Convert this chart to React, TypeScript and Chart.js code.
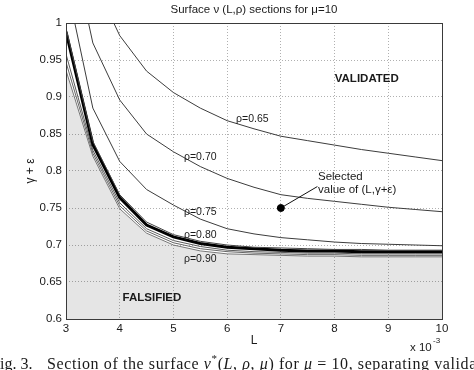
import React, { useEffect, useRef } from "react";
import { Chart, registerables } from "chart.js";
Chart.register(...registerables);

// ---- data ----
const L_VALUES = [3, 3.5, 4, 4.5, 5, 5.5, 6, 6.5, 7, 7.5, 8, 8.5, 9, 9.5, 10];
const RHO_065 = [1.2, 1.06, 0.983, 0.935, 0.906, 0.885, 0.868, 0.857, 0.847, 0.841, 0.835, 0.829, 0.824, 0.819, 0.814];
const RHO_070 = [1.14, 0.973, 0.896, 0.85, 0.826, 0.806, 0.79, 0.778, 0.768, 0.763, 0.759, 0.755, 0.751, 0.748, 0.745];
const RHO_075 = [1.056, 0.885, 0.813, 0.775, 0.754, 0.735, 0.722, 0.715, 0.71, 0.707, 0.704, 0.702, 0.701, 0.7, 0.699];
const RHO_080 = [0.993, 0.84, 0.768, 0.731, 0.714, 0.705, 0.7, 0.697, 0.696, 0.695, 0.694, 0.694, 0.693, 0.693, 0.693];
const BOUNDARY = [0.988, 0.836, 0.764, 0.727, 0.711, 0.702, 0.697, 0.695, 0.693, 0.692, 0.692, 0.691, 0.691, 0.691, 0.691];
const SECTION_A = [0.958, 0.828, 0.757, 0.722, 0.706, 0.698, 0.693, 0.691, 0.69, 0.689, 0.689, 0.688, 0.688, 0.688, 0.688];
const SECTION_B = [0.947, 0.824, 0.753, 0.719, 0.703, 0.695, 0.691, 0.689, 0.688, 0.687, 0.687, 0.686, 0.686, 0.686, 0.686];
const RHO_090 = [0.936, 0.82, 0.749, 0.716, 0.7, 0.692, 0.688, 0.687, 0.686, 0.685, 0.685, 0.684, 0.684, 0.684, 0.684];

const SELECTED_POINT = [7, 0.75];
const LEADER_END = [7.68, 0.779];

const X_TICKS = [3, 4, 5, 6, 7, 8, 9, 10];
const Y_TICKS = [0.6, 0.65, 0.7, 0.75, 0.8, 0.85, 0.9, 0.95, 1];
const Y_TICK_LABELS = ["0.6", "0.65", "0.7", "0.75", "0.8", "0.85", "0.9", "0.95", "1"];

const RHO_LABELS = ["\u03c1=0.65", "\u03c1=0.70", "\u03c1=0.75", "\u03c1=0.80", "\u03c1=0.90"];
const RHO_LABEL_L = [6.47, 5.5, 5.5, 5.5, 5.5];
const RHO_LABEL_V = [0.87, 0.8186, 0.7443, 0.7132, 0.6815];

const TITLE = "Surface \u03bd (L,\u03c1) sections for \u03bc=10";
const X_TITLE = "L";
const Y_TITLE = "\u03b3 + \u03b5";

const pts = (ys: number[]) => ys.map((v, i) => ({ x: L_VALUES[i], y: v }));

const SANS = '"Liberation Sans", Arial, sans-serif';
const SERIF = '"Liberation Serif", "Times New Roman", serif';

const overlay = {
  id: "overlay",
  afterDraw(chart: any) {
    const { ctx, chartArea: a, scales } = chart;
    const x = scales.x;
    const y = scales.y;
    ctx.save();
    // box
    ctx.strokeStyle = "#3a3a3a";
    ctx.lineWidth = 1;
    ctx.strokeRect(Math.round(a.left) + 0.5, Math.round(a.top) + 0.5, Math.round(a.right - a.left), Math.round(a.bottom - a.top));

    ctx.fillStyle = "#1a1a1a";
    ctx.textBaseline = "middle";
    // title
    ctx.font = `11.5px ${SANS}`;
    ctx.textAlign = "center";
    ctx.fillText(TITLE, (a.left + a.right) / 2, 10);

    // x title
    ctx.font = `12px ${SANS}`;
    ctx.fillText(X_TITLE, (a.left + a.right) / 2, 341);
    // x 10^-3
    ctx.textAlign = "left";
    ctx.font = `11.5px ${SANS}`;
    ctx.fillText("x 10", 410, 347.5);
    ctx.font = `8px ${SANS}`;
    ctx.fillText("-3", 433, 341);

    // y title
    ctx.save();
    ctx.translate(31, 171);
    ctx.rotate(-Math.PI / 2);
    ctx.textAlign = "center";
    ctx.font = `12px ${SANS}`;
    ctx.fillText(Y_TITLE, 0, 0);
    ctx.restore();

    // region labels
    ctx.textAlign = "center";
    ctx.font = `bold 11.5px ${SANS}`;
    ctx.fillText("VALIDATED", x.getPixelForValue(8.6), y.getPixelForValue(0.925));
    ctx.fillText("FALSIFIED", x.getPixelForValue(4.6), y.getPixelForValue(0.628));

    // rho labels
    ctx.font = `10.5px ${SANS}`;
    RHO_LABELS.forEach((t, i) => {
      ctx.fillText(t, x.getPixelForValue(RHO_LABEL_L[i]), y.getPixelForValue(RHO_LABEL_V[i]));
    });

    // selected value text
    ctx.textAlign = "left";
    ctx.font = `11.5px ${SANS}`;
    ctx.fillText("Selected", 318, 177);
    ctx.fillText("value of (L,\u03b3+\u03b5)", 318, 190);

    // caption
    ctx.textBaseline = "alphabetic";
    const base = 369;
    let cx = 0;
    const put = (t: string, italic = false, size = 16, dy = 0) => {
      ctx.font = `${italic ? "italic " : ""}${size}px ${SERIF}`;
      ctx.fillText(t, cx, base + dy);
      cx += ctx.measureText(t).width;
    };
    put("ig. 3.");
    cx = 47;
    (ctx as any).letterSpacing = "0.6px";
    put("Section of the surface ");
    put("\u03bd", true);
    put("*", false, 11, -7);
    put("(");
    put("L", true);
    put(", ");
    put("\u03c1", true);
    put(", ");
    put("\u03bc", true);
    put(") for ");
    put("\u03bc", true);
    put(" = 10, separating validated");
    (ctx as any).letterSpacing = "0px";
    ctx.restore();
  },
};

export default function App() {
  const ref = useRef<HTMLCanvasElement | null>(null);
  useEffect(() => {
    if (!ref.current) return;
    const thin = (data: number[], color: string, order = 1) => ({
      type: "line" as const,
      data: pts(data),
      borderColor: color,
      borderWidth: 1,
      pointRadius: 0,
      tension: 0,
      fill: false,
      clip: 0,
      order,
    });
    const chart = new Chart(ref.current, {
      type: "line",
      data: {
        datasets: [
          {
            type: "scatter",
            data: [{ x: SELECTED_POINT[0], y: SELECTED_POINT[1] }],
            pointRadius: 3.5,
            pointBackgroundColor: "#000",
            pointBorderColor: "#000",
            showLine: false,
            order: 0,
          } as any,
          {
            type: "line",
            data: [
              { x: SELECTED_POINT[0], y: SELECTED_POINT[1] },
              { x: LEADER_END[0], y: LEADER_END[1] },
            ],
            borderColor: "#111",
            borderWidth: 1,
            pointRadius: 0,
            fill: false,
            order: 0,
          },
          thin(RHO_065, "#3c3c3c"),
          thin(RHO_070, "#3c3c3c"),
          thin(RHO_075, "#3c3c3c"),
          thin(RHO_080, "#444"),
          { ...thin(BOUNDARY, "#000"), borderWidth: 3 },
          thin(SECTION_A, "#5a5a5a", 2),
          thin(SECTION_B, "#666", 2),
          {
            ...thin(RHO_090, "#777", 3),
            fill: "start",
            backgroundColor: "rgba(0,0,0,0.1)",
          },
        ] as any,
      },
      options: {
        animation: false,
        responsive: false,
        events: [],
        layout: { padding: { top: 23, right: 32, left: 0, bottom: 0 } },
        plugins: { legend: { display: false }, tooltip: { enabled: false }, title: { display: false } },
        scales: {
          x: {
            type: "linear",
            min: 3,
            max: 10,
            afterBuildTicks: (s: any) => {
              s.ticks = X_TICKS.map((v) => ({ value: v }));
            },
            afterFit: (s: any) => {
              s.height = 51;
            },
            ticks: {
              autoSkip: false,
              maxRotation: 0,
              padding: 3,
              color: "#1a1a1a",
              font: { family: SANS, size: 11.5 },
              callback: (v: any) => String(v),
            },
            grid: { color: "#b0b0b0", lineWidth: 1, drawTicks: false },
            border: { display: false, dash: [1, 2] },
          },
          y: {
            type: "linear",
            min: 0.6,
            max: 1,
            afterBuildTicks: (s: any) => {
              s.ticks = Y_TICKS.map((v) => ({ value: v }));
            },
            afterFit: (s: any) => {
              s.width = 66;
            },
            ticks: {
              autoSkip: false,
              padding: 4,
              color: "#1a1a1a",
              font: { family: SANS, size: 11.5 },
              callback: (v: any) => {
                const i = Y_TICKS.findIndex((t) => Math.abs(t - v) < 1e-6);
                return i >= 0 ? Y_TICK_LABELS[i] : "";
              },
            },
            grid: { color: "#b0b0b0", lineWidth: 1, drawTicks: false },
            border: { display: false, dash: [1, 2] },
          },
        },
      } as any,
      plugins: [overlay],
    });
    return () => chart.destroy();
  }, []);
  return (
    <div style={{ position: "fixed", left: 0, top: 0, width: 474, height: 370, background: "#fff" }}>
      <canvas ref={ref} width={474} height={370} style={{ display: "block", width: 474, height: 370 }} />
    </div>
  );
}
